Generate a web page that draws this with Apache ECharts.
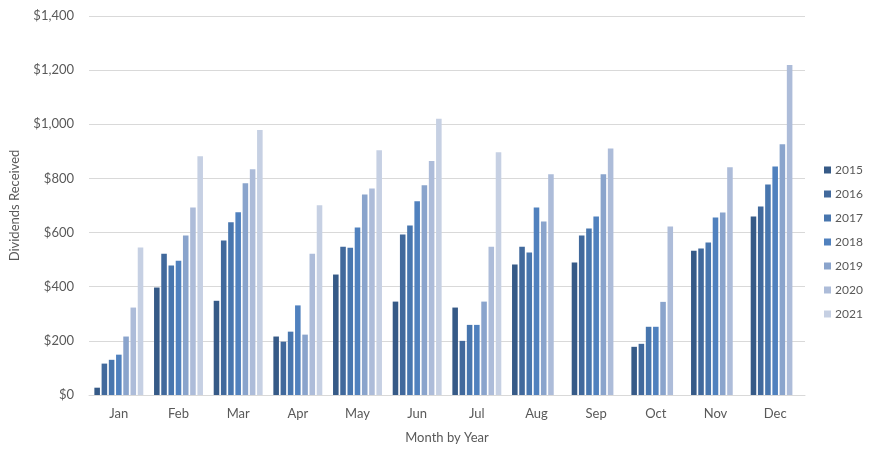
<!DOCTYPE html>
<html>
<head>
<meta charset="utf-8">
<script src="https://cdn.jsdelivr.net/npm/echarts@6/dist/echarts.min.js"></script>
<style>html,body{margin:0;padding:0;background:#fff;}#c{width:873px;height:455px;}</style>
</head>
<body>
<div id="c"></div>
<script>
const months = ['Jan','Feb','Mar','Apr','May','Jun','Jul','Aug','Sep','Oct','Nov','Dec'];
const years = ['2015','2016','2017','2018','2019','2020','2021'];
const y2015 = [27, 397, 348, 216, 445, 345, 323, 482, 489, 178, 533, 659];
const y2016 = [116, 522, 571, 197, 548, 593, 200, 548, 589, 189, 541, 696];
const y2017 = [130, 478, 638, 234, 544, 626, 259, 526, 615, 252, 563, 778];
const y2018 = [149, 496, 675, 331, 619, 716, 259, 693, 659, 252, 656, 844];
const y2019 = [216, 589, 782, 223, 741, 775, 345, 641, 815, 344, 674, 926];
const y2020 = [323, 693, 834, 522, 763, 864, 548, 815, 911, 622, 841, 1219];
const y2021 = [545, 882, 979, 701, 904, 1020, 897, null, null, null, null, null];
const yTicks = [0, 200, 400, 600, 800, 1000, 1200, 1400];
const seriesData = [y2015, y2016, y2017, y2018, y2019, y2020, y2021];
const colors = ['#365A87', '#41699C', '#4876AE', '#5081BE', '#8AA4CC', '#ADBCD9', '#C6D0E3'];
const font = 'Lato, "Open Sans", sans-serif';
const chart = echarts.init(document.getElementById('c'));
chart.setOption({
  animation: false,
  textStyle: {fontFamily: font},
  color: colors,
  grid: {left: 87, right: 68, top: 16, bottom: 60},
  legend: {
    orient: 'vertical', left: 819, top: 159,
    itemWidth: 7, itemHeight: 7, itemGap: 12,
    icon: 'rect',
    textStyle: {color: '#595959', fontSize: 12, fontFamily: font, padding: [0,0,0,-1]},
    data: years
  },
  xAxis: {
    type: 'category', data: months,
    name: 'Month by Year', nameLocation: 'middle', nameGap: 36,
    nameTextStyle: {color: '#595959', fontSize: 13, fontFamily: font},
    axisLine: {lineStyle: {color: '#D9D9D9'}},
    axisTick: {show: false},
    axisLabel: {color: '#595959', fontSize: 13, margin: 12, fontFamily: font}
  },
  yAxis: {
    type: 'value', min: yTicks[0], max: yTicks[yTicks.length-1], interval: 200,
    name: 'Dividends Received', nameLocation: 'middle', nameGap: 68,
    nameTextStyle: {color: '#595959', fontSize: 13, fontFamily: font},
    axisLine: {show: false}, axisTick: {show: false},
    splitLine: {lineStyle: {color: '#D9D9D9'}},
    axisLabel: {color: '#595959', fontSize: 13, margin: 15, fontFamily: font,
      formatter: v => '$' + v.toLocaleString('en-US')}
  },
  series: years.map((y, i) => ({
    name: y, type: 'bar', data: seriesData[i],
    barCategoryGap: '18%', barGap: '30%'
  }))
});
</script>
</body>
</html>
